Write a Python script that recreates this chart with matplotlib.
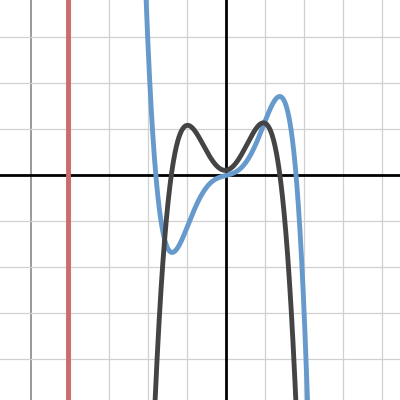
import numpy as np
import matplotlib
matplotlib.use("Agg")
import matplotlib.pyplot as plt

blue_x = [-2.08, -1.79, -1.38, -0.7, 0.0, 0.7, 1.38, 1.79, 2.09]
blue_y = [4.5, 0.0, -1.78, -0.5, 0.0, 0.5, 1.78, 0.0, -4.9]
black_x = [-1.82, -1.38, -1.0, -0.5, 0.0, 0.5, 1.0, 1.38, 1.79]
black_y = [-4.9, 0.0, 1.17, 0.6, 0.0, 0.6, 1.17, 0.0, -4.9]
red_x = -4.05

fig = plt.figure(figsize=(4, 4), dpi=100)
ax = fig.add_axes([0, 0, 1, 1])
xmin, xmax = -226/39.0, 174/39.0
ymin, ymax = -225/46, 175/46
ax.set_xlim(xmin, xmax); ax.set_ylim(ymin, ymax)
for gx in range(-5, 5):
    ax.axvline(gx, color='#888' if gx == -5 else '#d0d0d0', lw=1.2 if gx == -5 else 0.9, zorder=0)
for gy in range(-4, 4):
    ax.axhline(gy, color='#d0d0d0', lw=0.9, zorder=0)
ax.axhline(0, color='black', lw=2, zorder=1)
ax.axvline(0, color='black', lw=2, zorder=1)
ax.axvline(red_x, color='#cc6b6b', lw=3.5, zorder=2)

xs = np.linspace(-2.3, 2.3, 800)
pb = np.polyfit(blue_x, blue_y, 5)
pk = np.polyfit(black_x, black_y, 4)
ax.plot(xs, np.polyval(pb, xs), color='#6699cc', lw=3.5, zorder=3)
ax.plot(xs, np.polyval(pk, xs), color='#444444', lw=3.5, zorder=4)
ax.axis('off')
fig.savefig('out.png')
